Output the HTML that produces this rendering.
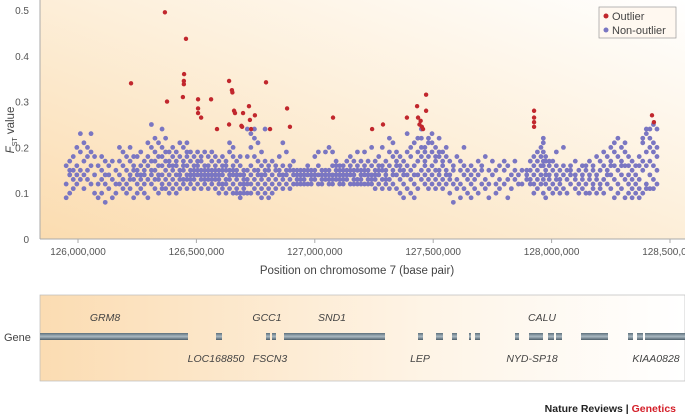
<!DOCTYPE html>
<html><head><meta charset="utf-8">
<style>
body{margin:0;width:685px;height:418px;background:#fff;overflow:hidden;font-family:"Liberation Sans",sans-serif;}
svg{display:block}
</style></head>
<body>
<svg id="chart" width="685" height="418">
<defs>
<linearGradient id="bg1" x1="0" y1="1" x2="1" y2="0">
<stop offset="0" stop-color="#fbdcb0"/><stop offset="0.55" stop-color="#fdf0dc"/><stop offset="1" stop-color="#ffffff"/>
</linearGradient>
<linearGradient id="bg2" x1="0" y1="0" x2="1" y2="0">
<stop offset="0" stop-color="#fbdcb2"/><stop offset="0.6" stop-color="#fef4e6"/><stop offset="1" stop-color="#ffffff"/>
</linearGradient>
<linearGradient id="bar" x1="0" y1="0" x2="0" y2="1">
<stop offset="0" stop-color="#5d6f7b"/><stop offset="0.5" stop-color="#aab9c2"/><stop offset="1" stop-color="#4d5e6a"/>
</linearGradient>
</defs>
<rect x="40" y="0" width="645" height="239" fill="url(#bg1)"/>
<g id="axes"></g>
<g id="points"></g>
<g>
<rect x="599" y="7" width="77" height="31" fill="#fff8f0" stroke="#999" stroke-width="0.7"/>
<circle cx="606" cy="16" r="2.5" fill="#c1272d"/>
<text x="612" y="20" font-size="11" fill="#444">Outlier</text>
<circle cx="606" cy="30" r="2.5" fill="#7a76c2"/>
<text x="612" y="34" font-size="11" fill="#444">Non-outlier</text>
</g>
<text x="357" y="274" font-size="11.5" fill="#444" text-anchor="middle">Position on chromosome 7 (base pair)</text>
<text transform="translate(14,130) rotate(-90)" font-size="11.5" fill="#444" text-anchor="middle"><tspan font-style="italic">F</tspan><tspan font-size="7" dy="3">ST</tspan><tspan dy="-3"> value</tspan></text>
<rect x="40" y="295" width="645" height="86" fill="url(#bg2)" stroke="#bbb" stroke-width="0.7"/>
<text x="4" y="341" font-size="11" fill="#444">Gene</text>
<g id="genes"></g>
<text x="676" y="412" font-size="10.5" font-weight="bold" fill="#222" text-anchor="end">Nature Reviews | <tspan fill="#d4202a">Genetics</tspan></text>
</svg>
<script>
// Data
const yTicks=[0,0.1,0.2,0.3,0.4,0.5];
const xTicks=[126000000,126500000,127000000,127500000,128000000,128500000];
const xTickLabels=["126,000,000","126,500,000","127,000,000","127,500,000","128,000,000","128,500,000"];
const bluePosMb=[125.95,125.965,125.98,125.995,126.01,126.025,126.04,126.055,126.07,126.085,126.10,126.115,126.13,126.145,126.16,126.175,126.19,126.205,126.22,126.235,126.25,126.265,126.28,126.295,126.31,126.325,126.34,126.355,126.37,126.385,126.40,126.415,126.43,126.445,126.46,126.475,126.49,126.505,126.52,126.535,126.55,126.565,126.58,126.595,126.61,126.625,126.64,126.655,126.67,126.685,126.70,126.715,126.73,126.745,126.76,126.775,126.79,126.805,126.82,126.835,126.85,126.865,126.88,126.895,126.91,126.925,126.94,126.955,126.97,126.985,127.00,127.015,127.03,127.045,127.06,127.075,127.09,127.105,127.12,127.135,127.15,127.165,127.18,127.195,127.21,127.225,127.24,127.255,127.27,127.285,127.30,127.315,127.33,127.345,127.36,127.375,127.39,127.405,127.42,127.435,127.45,127.465,127.48,127.495,127.51,127.525,127.54,127.555,127.57,127.585,127.60,127.615,127.63,127.645,127.66,127.675,127.69,127.705,127.72,127.735,127.75,127.765,127.78,127.80,127.815,127.83,127.845,127.86,127.875,127.895,127.91,127.925,127.94,127.955,127.965,127.975,127.99,128.005,128.02,128.035,128.05,128.065,128.08,128.10,128.115,128.13,128.145,128.16,128.175,128.19,128.205,128.22,128.235,128.25,128.265,128.28,128.295,128.31,128.325,128.34,128.355,128.37,128.385,128.40,128.415,128.43,128.445];
const blueFstPct=[[16,12,9],[17,14,10,15],[15,13,18,11],[16,20,14,12],[19,23,15,13],[17,21,14,11],[18,20,15,13],[16,23,12,19],[14,18,10],[16,12,9],[15,18,13,10],[12,17,8,14],[14,16,11],[13,17,9],[15,12,10],[17,14,12,20],[16,13,19,11],[15,18,12,10],[14,20,11,17,13],[13,16,9,18,15],[15,12,18,10,14],[16,14,19,11,13],[14,17,10,15,12],[18,13,16,9,21],[17,25,14,12,20,15],[19,22,15,11,13,17],[16,21,14,10,18,13],[24,18,14,12,16,20,11],[19,15,13,17,11,22],[17,14,12,16,10,19],[15,13,18,11,16,20],[16,12,14,19,10,17],[18,13,15,21,11,14],[15,20,12,17,13,16],[14,19,11,16,13,21,18],[17,13,15,12,19,14],[16,14,18,11,13,15],[15,19,12,16,14,17],[17,13,15,11,18,14],[16,14,19,12,15,13],[15,18,13,11,16,14],[17,12,15,14,19,13],[16,13,18,11,14,15],[14,17,12,15,10,13],[15,12,16,11,14,18],[16,13,15,10,12,17],[14,19,11,15,13,21],[15,18,12,10,14,16,20],[13,17,11,15,10,14],[12,14,10,16,18,9],[14,11,13,10,15,12],[15,10,18,12,13,24],[20,23,16,12,10,14],[22,18,15,11,13,24],[21,17,14,12,10,15],[19,16,13,11,9,14],[17,14,12,10,15,24],[15,13,11,16,9],[14,12,17,10],[16,13,11,15],[15,12,14,18],[14,13,16,11,21],[15,12,14,19],[13,15,11,16],[14,12,15,17],[15,13,14,12],[14,12,15,13],[13,15,14,12],[15,14,12,16],[14,13,15,12],[13,15,14,18],[14,12,16,19],[15,13,14,12],[14,15,13,19],[13,15,14,12,20],[14,16,13,12,19],[15,13,14,16,17],[14,15,13,12,16],[16,14,15,13,12],[15,17,13,14],[14,16,12,15,18],[13,15,14,12,17],[15,13,16,12,19],[14,15,13,17,12],[16,14,12,15,19],[15,13,17,12,14],[14,16,12,13,20],[15,13,17,11,14],[16,14,12,15,18],[15,13,16,11,20],[14,17,12,15,13],[16,13,19,11,22],[15,18,12,14,21],[14,17,11,16,19],[13,16,10,15,18],[12,17,15,14,9],[14,19,11,16,23],[13,18,10,15,20],[12,16,14,9,21],[17,14,11,19,22],[18,15,22,13,20,24],[16,20,14,12,19,17],[22,18,15,13,11,21],[19,16,21,14,12,23],[17,20,15,13,11,18],[18,15,22,12,19,14],[16,19,13,17,11],[15,18,12,14,20],[14,17,10,13],[16,12,15,8],[13,18,11],[15,12,17,9],[14,16,11,20],[13,15,10],[12,16,9,14],[15,11,13],[14,17,10],[16,12,15],[13,11,18],[15,12,9],[14,17],[12,15,10],[16,13,11],[15,12,17],[13,16,9],[14,11],[17,13,15],[14,12],[12,15],[13,15,14],[15,13,12,17],[14,16,12,10,18],[17,13,19,15,11],[16,20,14,12,18],[21,22,16,13,10,19,17],[18,15,12,14,17,9],[16,13,11,17,14],[15,12,17,10],[14,16,13,11,19],[13,15,12,10],[16,11,14,20],[13,10,15],[15,12,14,16],[14,11,13,17],[12,10,15],[14,16,11,13],[15,12,10,16],[13,10,14,17],[16,12,15,11],[14,18,10,13],[15,12,17,11],[13,16,19,10],[15,18,12,14],[17,14,20,11,16],[16,21,13,19,9],[18,15,22,12,10],[17,20,14,11,16],[19,16,21,13,9],[16,18,14,12,10],[15,17,13,9,11],[14,16,12,10],[16,18,13,9,11],[17,21,15,10,22],[19,23,16,12,11,24],[20,17,22,14,11,24],[19,16,13,11,21,25],[18,15,12,20,24]];
const redPosMb=[126.367,126.224,126.376,126.456,126.448,126.447,126.447,126.443,126.507,126.507,126.507,126.52,126.562,126.587,126.638,126.650,126.652,126.638,126.659,126.663,126.697,126.690,126.722,126.726,126.731,126.747,126.693,126.794,126.883,126.895,126.811,127.077,127.242,127.288,127.389,127.470,127.432,127.470,127.436,127.442,127.447,127.452,127.457,127.926,127.926,127.926,127.926,128.424,128.432];
const redFst=[0.495,0.34,0.30,0.437,0.36,0.345,0.338,0.31,0.305,0.285,0.275,0.265,0.305,0.24,0.345,0.325,0.32,0.25,0.28,0.275,0.275,0.247,0.29,0.26,0.24,0.27,0.245,0.342,0.285,0.245,0.24,0.265,0.24,0.25,0.265,0.315,0.29,0.28,0.265,0.25,0.258,0.245,0.24,0.28,0.265,0.255,0.245,0.27,0.255];
const geneBlocks=[[40,188],[216,222],[266,270],[272,276],[284,385],[418,423],[436,443],[452,457],[469,471],[475,480],[515,519],[529,543],[548,554],[556,562],[581,608],[628,633],[637,643],[645,685]];
const geneNames=["GRM8","GCC1","SND1","CALU","LOC168850","FSCN3","LEP","NYD-SP18","KIAA0828"];
const geneLabelX=[105,267,332,542,216,270,420,532,656];
const geneLabelTop=[true,true,true,true,false,false,false,false,false];

// Axes functions
const X0=78, PXPERMB=236.8, Y0=239, PXPERUNIT=458;
const xs=mb=>X0+(mb-126)*PXPERMB;
const ys=v=>Y0-v*PXPERUNIT;
const NS="http://www.w3.org/2000/svg";
function mk(tag,attrs,parent){const e=document.createElementNS(NS,tag);for(const k in attrs)e.setAttribute(k,attrs[k]);parent.appendChild(e);return e;}

const axes=document.getElementById('axes');
const ya=mk('line',{x1:40,y1:0,x2:40,y2:239,stroke:'#aaa','stroke-width':1},axes);


const xa=mk('line',{x1:40,y1:239,x2:685,y2:239,stroke:'#aaa','stroke-width':1},axes);


yTicks.forEach(v=>{
  const t=mk('text',{x:29,y:ys(v)+4,'font-size':10,fill:'#555','text-anchor':'end'},axes);
  t.textContent=v===0?'0':String(v);
  
  
});
xTicks.forEach((p,i)=>{
  const x=xs(p/1e6);
  const tk=mk('line',{x1:x,y1:239,x2:x,y2:243,stroke:'#aaa'},axes);
  
  
  const t=mk('text',{x:x,y:255,'font-size':10,fill:'#555','text-anchor':'middle'},axes);
  t.textContent=xTickLabels[i];
  
  
});

const pts=document.getElementById('points');
bluePosMb.forEach((p,i)=>{
  blueFstPct[i].forEach(v=>{
    const c=mk('circle',{cx:xs(p),cy:ys(v/100),r:2.4,fill:'#7a76c2'},pts);
    
    
  });
});
redPosMb.forEach((p,i)=>{
  const c=mk('circle',{cx:xs(p),cy:ys(redFst[i]),r:2.2,fill:'#c1272d'},pts);
  
  
});

const genes=document.getElementById('genes');
geneBlocks.forEach(b=>{
  const r=mk('rect',{x:b[0],y:333,width:b[1]-b[0],height:7,fill:'url(#bar)'},genes);
  
  
});
geneNames.forEach((n,i)=>{
  const t=mk('text',{x:geneLabelX[i],y:geneLabelTop[i]?321:362,'font-size':10.5,'font-style':'italic',fill:'#444','text-anchor':'middle'},genes);
  t.textContent=n;
  
  
});
</script>
</body></html>
